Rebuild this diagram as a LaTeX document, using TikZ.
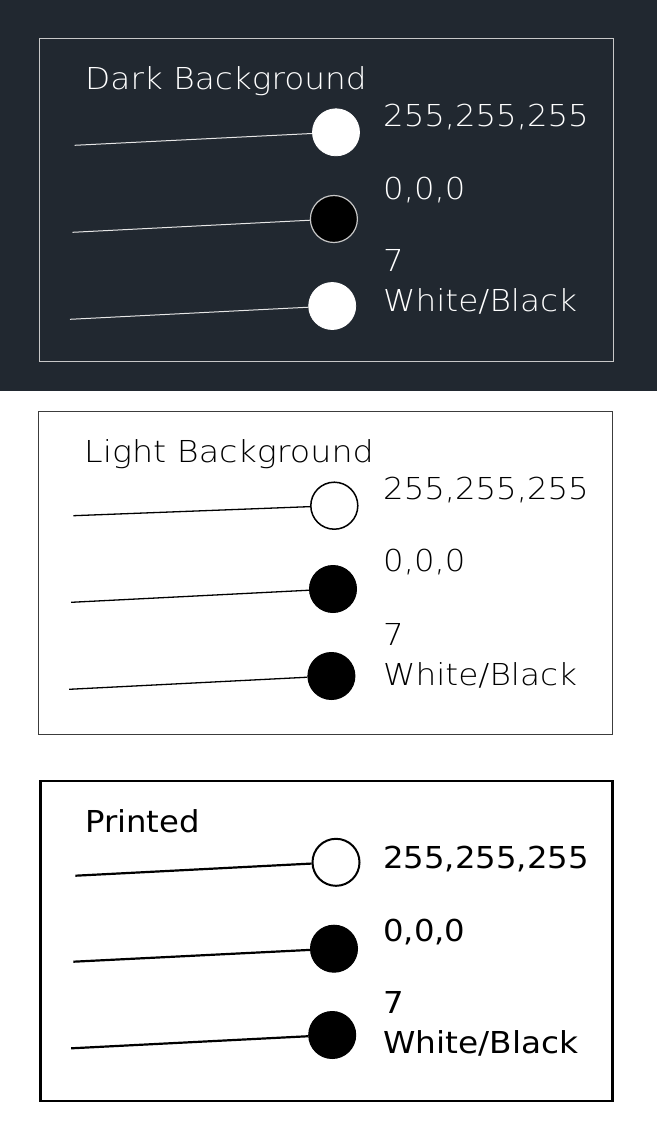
\documentclass[tikz,border=0pt]{standalone}
\usepackage{fontspec}
\usepackage{graphicx}
\newfontfamily\cadthin{DejaVuSans-ExtraLight.ttf}
\newfontfamily\cadbook{DejaVu Sans}
\definecolor{darkbg}{RGB}{33,40,48}
\definecolor{framegray}{RGB}{200,200,200}
\definecolor{lineLight}{RGB}{230,230,230}
\definecolor{framedark}{RGB}{60,60,60}
\newcommand\wide[2][1.07]{\scalebox{#1}[1]{#2}}
\begin{document}
\begin{tikzpicture}[x=1pt,y=-1pt,
  lbl/.style={anchor=base west, inner sep=0pt},
  thintxt/.style={lbl, font=\cadthin\fontsize{30.2}{36}\selectfont},
  booktxt/.style={lbl, font=\cadbook\fontsize{30.2}{36}\selectfont},
  dot/.style={circle, minimum size=47pt, inner sep=0pt},
  darkframe/.style={draw=framegray, line width=1pt},
  lightframe/.style={draw=framedark, line width=1pt},
  printframe/.style={draw=black, line width=2.4pt},
  darkwire/.style={draw=lineLight, line width=1pt},
  lightwire/.style={draw=black, line width=1.3pt},
  printwire/.style={draw=black, line width=2.2pt},
]
\useasboundingbox (0,0) rectangle (657,1136);
\fill[white] (0,0) rectangle (657,1136);
\fill[darkbg] (0,0) rectangle (657,391);

% ---------- Dark background panel ----------
\draw[darkframe] (39.4,38.7) rectangle (613.3,361);
\node[thintxt, text=white] (dtitle) at (85,89.3) {\wide[1.085]{Dark Background}};
\node[dot, fill=white, draw=white, line width=0.8pt] (dc1) at (336,132.3) {};
\node[dot, fill=black, draw=framegray, line width=1.2pt] (dc2) at (333.9,219) {};
\node[dot, fill=white, draw=white, line width=0.8pt] (dc3) at (332.2,306) {};
\coordinate (ds1) at (74.6,145.3);
\coordinate (ds2) at (72.5,232.3);
\coordinate (ds3) at (70,319.3);
\draw[darkwire] (ds1) -- (dc1);
\draw[darkwire] (ds2) -- (dc2);
\draw[darkwire] (ds3) -- (dc3);
\node[thintxt, text=white] (dt1) at (383,126) {\wide{255,255,255}};
\node[thintxt, text=white] (dt2) at (383,199.3) {\wide{0,0,0}};
\node[thintxt, text=white] (dt3) at (383,271.7) {\wide{7}};
\node[thintxt, text=white] (dt4) at (383,311.7) {\wide[1.085]{White/Black}};

% ---------- Light background panel ----------
\draw[lightframe] (38.5,411.3) rectangle (612.5,734);
\node[thintxt, text=black] (ltitle) at (84,462.3) {\wide[1.105]{Light Background}};
\node[dot, fill=white, draw=black, line width=1.5pt] (lc1) at (334.3,505.7) {};
\node[dot, fill=black, draw=black, line width=1pt] (lc2) at (333,589) {};
\node[dot, fill=black, draw=black, line width=1pt] (lc3) at (331.4,676) {};
\coordinate (ls1) at (73.3,515.7);
\coordinate (ls2) at (71.2,602.3);
\coordinate (ls3) at (69.1,689.3);
\draw[lightwire] (ls1) -- (lc1);
\draw[lightwire] (ls2) -- (lc2);
\draw[lightwire] (ls3) -- (lc3);
\node[thintxt, text=black] (lt1) at (383,499.3) {\wide{255,255,255}};
\node[thintxt, text=black] (lt2) at (383,571.7) {\wide{0,0,0}};
\node[thintxt, text=black] (lt3) at (383,645.7) {\wide{7}};
\node[thintxt, text=black] (lt4) at (383,685.7) {\wide[1.085]{White/Black}};

% ---------- Printed panel ----------
\draw[printframe] (40.6,780.7) rectangle (612.5,1101);
\node[booktxt, text=black] (ptitle) at (85,832.3) {\wide{Printed}};
\node[dot, fill=white, draw=black, line width=2pt] (pc1) at (336,862.3) {};
\node[dot, fill=black, draw=black, line width=1pt] (pc2) at (334,948.7) {};
\node[dot, fill=black, draw=black, line width=1pt] (pc3) at (332.2,1035) {};
\coordinate (ps1) at (75.4,875.7);
\coordinate (ps2) at (73.3,961.7);
\coordinate (ps3) at (71.2,1048.3);
\draw[printwire] (ps1) -- (pc1);
\draw[printwire] (ps2) -- (pc2);
\draw[printwire] (ps3) -- (pc3);
\node[booktxt, text=black] (pt1) at (383,868.3) {\wide{255,255,255}};
\node[booktxt, text=black] (pt2) at (383,941) {\wide{0,0,0}};
\node[booktxt, text=black] (pt3) at (383,1013.3) {\wide{7}};
\node[booktxt, text=black] (pt4) at (383,1053.3) {\wide[1.085]{White/Black}};
\end{tikzpicture}
\end{document}
